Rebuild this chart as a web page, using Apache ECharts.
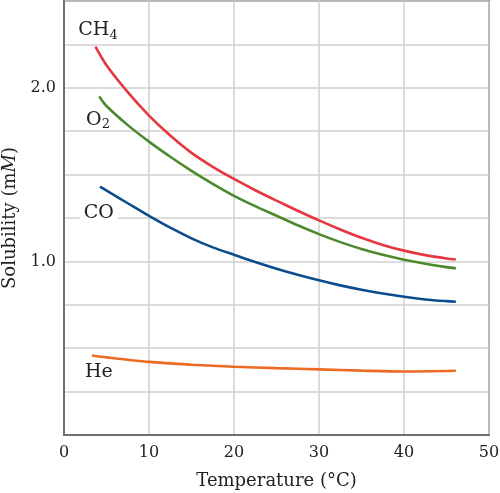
<!DOCTYPE html>
<html>
<head>
<meta charset="utf-8">
<script src="https://cdn.jsdelivr.net/npm/echarts@6/dist/echarts.min.js"></script>
<style>
  html, body { margin: 0; padding: 0; background: #fff; }
  #chart { width: 500px; height: 493px; }
</style>
</head>
<body>
<div id="chart"></div>
<script>
const ch4Temp = [3.7, 5, 7.5, 10, 12.5, 15, 17.5, 20, 22.5, 25, 27.5, 30, 32.5, 35, 37.5, 40, 42.5, 45, 46.1];
const ch4Sol = [2.237, 2.13, 1.975, 1.84, 1.725, 1.625, 1.545, 1.475, 1.41, 1.35, 1.292, 1.236, 1.184, 1.136, 1.095, 1.062, 1.036, 1.017, 1.011];

const o2Temp = [4.15, 5, 7.5, 10, 12.5, 15, 17.5, 20, 22.5, 25, 27.5, 30, 32.5, 35, 37.5, 40, 42.5, 45, 46.1];
const o2Sol = [1.95, 1.895, 1.785, 1.69, 1.603, 1.522, 1.447, 1.378, 1.318, 1.263, 1.208, 1.157, 1.111, 1.072, 1.038, 1.01, 0.987, 0.967, 0.96];

const coTemp = [4.24, 7.5, 10, 12.5, 15, 17.5, 20, 22.5, 25, 27.5, 30, 32.5, 35, 37.5, 40, 42.5, 45, 46.1];
const coSol = [1.431, 1.335, 1.262, 1.194, 1.133, 1.081, 1.038, 0.997, 0.958, 0.923, 0.891, 0.862, 0.837, 0.815, 0.796, 0.781, 0.771, 0.768];

const heTemp = [3.3, 5, 10, 15, 20, 25, 30, 35, 40, 46.1];
const heSol = [0.458, 0.447, 0.421, 0.405, 0.393, 0.385, 0.378, 0.371, 0.366, 0.37];

const FONT = 'DejaVu Serif';

const pairs = (xs, ys) => xs.map((x, i) => [x, ys[i]]);

const tag = (text, coord, bg) => ({
  symbol: 'rect',
  symbolSize: 1,
  itemStyle: { color: 'rgba(0,0,0,0)' },
  silent: true,
  data: [{
    coord: coord,
    label: {
      show: true,
      position: 'inside',
      formatter: text,
      color: '#222',
      fontFamily: FONT,
      fontSize: 19,
      backgroundColor: bg || 'transparent',
      padding: [0, 4],
      rich: {
        s: { fontFamily: FONT, fontSize: 13, color: '#222', padding: [10, 0, 0, 0] }
      }
    }
  }]
});

const curve = (name, xs, ys, color, label) => ({
  name: name,
  type: 'line',
  data: pairs(xs, ys),
  smooth: 0.3,
  showSymbol: false,
  lineStyle: { color: color, width: 2.6 },
  markPoint: label
});

const chart = echarts.init(document.getElementById('chart'));
chart.setOption({
  backgroundColor: '#fff',
  animation: false,
  grid: {
    left: 64, right: 11, top: 1, bottom: 58,
    outerBoundsMode: 'none', containLabel: false,
    show: true, borderColor: '#777', borderWidth: 2
  },
  xAxis: {
    type: 'value', min: 0, max: 50, interval: 10,
    name: 'Temperature (°C)',
    nameLocation: 'middle', nameGap: 37,
    nameTextStyle: { fontFamily: FONT, fontSize: 18, color: '#222' },
    axisLine: { lineStyle: { color: '#707070', width: 2 } },
    axisTick: { show: false },
    axisLabel: { fontFamily: FONT, fontSize: 16, color: '#222', margin: 10 },
    splitLine: { show: true, lineStyle: { color: '#cfcfcf', width: 1.5 } }
  },
  yAxis: {
    type: 'value', min: 0, max: 2.5, interval: 0.25,
    name: '{a|Solubility (m}{i|M}{a|)}',
    nameLocation: 'middle', nameGap: 45, nameRotate: 90,
    nameTextStyle: {
      rich: {
        a: { fontFamily: FONT, fontSize: 18, color: '#222' },
        i: { fontFamily: FONT, fontSize: 18, color: '#222', fontStyle: 'italic' }
      }
    },
    axisLine: { show: true, lineStyle: { color: '#707070', width: 2 } },
    axisTick: { show: false },
    axisLabel: {
      fontFamily: FONT, fontSize: 16, color: '#222', margin: 8,
      formatter: v => (v > 0 && Math.abs(v - Math.round(v)) < 1e-9) ? v.toFixed(1) : ''
    },
    splitLine: { show: true, lineStyle: { color: '#cfcfcf', width: 1.5 } }
  },
  series: [
    curve('CH4', ch4Temp, ch4Sol, '#e8363f', tag('CH{s|4}', [4.0, 2.33])),
    curve('O2', o2Temp, o2Sol, '#4b8a2f', tag('O{s|2}', [4.0, 1.815])),
    curve('CO', coTemp, coSol, '#0b4d8c', tag('CO', [4.1, 1.28], '#fff')),
    curve('He', heTemp, heSol, '#ec6a24', tag('He', [4.1, 0.362]))
  ]
});
</script>
</body>
</html>
